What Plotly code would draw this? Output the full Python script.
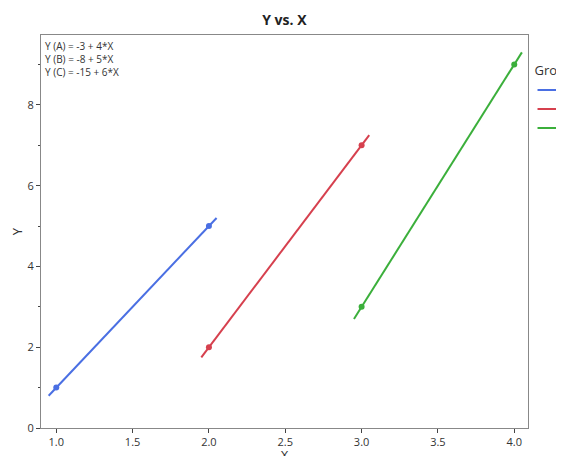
import plotly.graph_objects as go

groups = ["A", "B", "C"]
xs = [[1, 2], [2, 3], [3, 4]]
ys = [[1, 5], [2, 7], [3, 9]]
intercepts = [-3, -8, -15]
slopes = [4, 5, 6]
colors = ["#4A6FE3", "#D6404E", "#3BAF3B"]
ext = 0.05

fig = go.Figure()
for g, x, y, b, m, c in zip(groups, xs, ys, intercepts, slopes, colors):
    lx = [min(x) - ext, max(x) + ext]
    fig.add_trace(go.Scatter(x=lx, y=[b + m * v for v in lx], mode="lines",
                             line=dict(color=c, width=2), name=g, legendgroup=g))
    fig.add_trace(go.Scatter(x=x, y=y, mode="markers", marker=dict(color=c, size=6),
                             showlegend=False, legendgroup=g))

eq = "<br>".join(f"Y ({g}) = {b} + {m}*X" for g, b, m in zip(groups, intercepts, slopes))
fig.add_annotation(text=eq, xref="paper", yref="paper", x=0.005, y=0.995,
                   xanchor="left", yanchor="top", showarrow=False, align="left",
                   font=dict(size=10, color="#333"))

fig.update_layout(
    width=564, height=456, plot_bgcolor="white", paper_bgcolor="white",
    margin=dict(l=33, r=44, t=27, b=36, autoexpand=False),
    font=dict(family="Open Sans, DejaVu Sans", size=11, color="#333"),
    title=dict(text="<b>Y vs. X</b>", x=0.49, xanchor="center", y=0.985, yanchor="top",
               font=dict(size=14, color="#222")),
    legend=dict(title=dict(text="Group"), xref="container", x=0.93, y=0.94,
                xanchor="left", yanchor="top", font=dict(size=11), tracegroupgap=0,
                itemwidth=30),
    xaxis=dict(title=dict(text="X", standoff=0), range=[0.9, 4.09], dtick=0.5,
               tickformat=".1f", showline=True, linecolor="#888", mirror=True,
               ticks="outside", ticklen=4, showgrid=False, zeroline=False, automargin=False),
    yaxis=dict(title=dict(text="Y", standoff=8), range=[0, 9.73], dtick=2,
               showline=True, linecolor="#888", mirror=True, ticks="outside",
               ticklen=4, showgrid=False, zeroline=False, automargin=False,
               minor=dict(dtick=1, ticks="outside", ticklen=2)),
)
fig.write_html("out.html")
